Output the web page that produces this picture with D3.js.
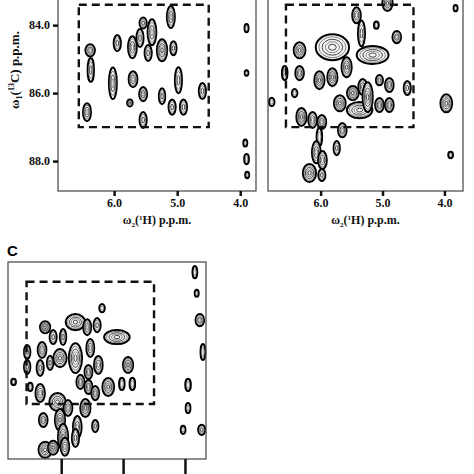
<!DOCTYPE html><html><head><script src="https://cdn.jsdelivr.net/npm/d3@7"></script>
<style>body{margin:0;background:#fff}</style></head><body><svg id="c" width="474" height="474"></svg>
<script>
const xTicks=[6.0,5.0,4.0];
const yTicks=[84.0,86.0,88.0];
const boxH=[6.56,4.5], boxC=[83.4,87.0];
// peaks: [1H ppm, 13C ppm, width ppm, height ppm]
const peaksA=[[5.54,83.94,.06,.22],[5.10,83.76,.07,.5],[5.40,84.21,.08,.6],[6.38,84.74,.09,.25],[6.37,85.32,.05,.55],[5.95,84.53,.06,.35],[5.71,84.65,.08,.5],[5.59,84.38,.06,.4],[5.46,84.82,.06,.35],[5.24,84.74,.1,.5],[5.06,84.68,.05,.3],[6.02,85.71,.07,.75],[5.70,85.59,.08,.35],[5.54,86.03,.07,.3],[5.24,86.09,.05,.35],[4.98,85.62,.06,.6],[5.08,86.41,.06,.33],[4.90,86.41,.06,.33],[4.60,85.94,.06,.35],[6.43,86.56,.07,.4],[5.54,86.79,.06,.35],[5.75,86.29,.04,.12],[3.90,84.09,.02,.15],[3.90,85.41,.015,.08],[3.92,87.47,.02,.12],[3.90,87.94,.03,.2],[3.89,88.41,.02,.1]];
const peaksB=[[5.42,83.71,.08,.35],[5.34,84.24,.06,.6],[4.92,83.35,.1,.35],[5.10,84.0,.03,.12],[4.77,84.35,.08,.25],[5.81,84.65,.4,.6],[6.34,84.74,.12,.35],[5.16,84.88,.38,.4],[6.58,85.41,.04,.3],[6.34,85.41,.08,.3],[6.02,85.62,.1,.4],[5.81,85.53,.1,.4],[5.58,85.24,.1,.45],[5.32,85.82,.08,.35],[5.05,85.62,.06,.2],[4.89,85.76,.08,.3],[4.60,85.85,.06,.3],[5.48,86.0,.12,.3],[5.69,86.3,.12,.35],[5.37,86.5,.3,.35],[5.24,86.12,.1,.7],[5.05,86.35,.08,.3],[4.89,86.35,.08,.3],[6.31,86.7,.1,.4],[6.13,86.79,.08,.35],[5.98,86.85,.08,.3],[5.65,87.09,.08,.3],[6.02,87.29,.04,.4],[6.07,87.74,.08,.5],[5.97,87.97,.08,.4],[5.74,87.62,.05,.3],[6.18,88.35,.14,.4],[5.98,88.41,.06,.25],[6.79,86.26,.04,.15],[6.42,86.0,.04,.15],[3.97,86.3,.12,.4],[3.90,87.82,.03,.1],[3.82,83.5,.02,.1]];
const peaksC=[[6.26,84.74,.1,.25],[6.13,85.03,.06,.3],[5.97,85.03,.05,.35],[5.77,84.59,.22,.35],[5.58,84.74,.07,.35],[5.42,84.68,.06,.3],[5.10,85.03,.3,.3],[6.55,85.47,.05,.3],[6.31,85.41,.08,.35],[6.02,85.65,.14,.4],[5.77,85.65,.14,.7],[5.53,85.35,.07,.4],[5.40,85.85,.08,.4],[6.55,85.91,.05,.3],[6.34,85.94,.06,.35],[6.18,85.79,.05,.3],[5.56,86.06,.07,.3],[5.69,86.35,.07,.3],[5.56,86.5,.07,.3],[5.45,86.68,.07,.3],[5.24,86.5,.12,.4],[5.02,86.41,.04,.25],[4.85,86.41,.04,.25],[4.92,85.85,.1,.35],[6.34,86.68,.09,.4],[6.06,86.94,.18,.4],[5.89,87.12,.08,.35],[5.61,87.12,.1,.4],[6.29,87.47,.08,.3],[6.02,87.47,.1,.5],[5.74,87.68,.08,.5],[5.97,87.97,.1,.6],[5.77,88.0,.06,.4],[5.45,87.65,.05,.25],[6.26,88.35,.14,.35],[6.13,88.29,.1,.3],[5.94,88.26,.08,.4],[5.34,84.18,.04,.15],[3.84,83.12,.03,.25],[3.81,83.74,.02,.12],[3.76,84.53,.08,.25],[3.71,85.47,.03,.35],[3.95,86.44,.04,.25],[3.95,87.12,.03,.2],[4.03,87.76,.03,.15],[3.73,87.76,.06,.2],[6.77,86.35,.03,.1],[6.5,86.5,.03,.15]];
const svg=d3.select("#c");
function panel(opt){
  const g=svg.append("g");
  const x=d3.scaleLinear().domain(opt.xd).range([opt.l,opt.r]);
  const y=d3.scaleLinear().domain(opt.yd).range([opt.t,opt.b]);
  opt.peaks.forEach(p=>{
    const rx=1.2+1.25*Math.abs(x(p[0]+p[2]/2)-x(p[0]-p[2]/2))/2, ry=1.2+1.15*Math.abs(y(p[1]+p[3]/2)-y(p[1]-p[3]/2))/2;
    const n=Math.max(1,Math.min(5,Math.round(Math.min(rx,ry)/1.1)));
    for(let i=0;i<n;i++){const f=1-i/(n+0.2);
      g.append("ellipse").attr("cx",x(p[0])).attr("cy",y(p[1])).attr("rx",Math.max(.8,rx*f)).attr("ry",Math.max(.8,ry*f))
       .attr("fill",i==0?"#f4f4f4":"none").attr("stroke",i==0?"#000":(i%2?"#777":"#333")).attr("stroke-width",i==0?2:0.9);}
  });
  g.append("rect").attr("x",x(boxH[0])).attr("y",y(boxC[0])).attr("width",x(boxH[1])-x(boxH[0])).attr("height",y(boxC[1])-y(boxC[0]))
   .attr("fill","none").attr("stroke","#111").attr("stroke-width",2.4).attr("stroke-dasharray","8,5");
  g.append("rect").attr("x",opt.l).attr("y",opt.t).attr("width",opt.r-opt.l).attr("height",opt.b-opt.t).attr("fill","none").attr("stroke","#444").attr("stroke-width",1.2);
  const xa=g.append("g").attr("transform",`translate(0,${opt.b})`).call(d3.axisBottom(x).tickValues(xTicks).tickSize(opt.tl||5).tickPadding(2).tickFormat(opt.xlab?d3.format(".1f"):""));
  xa.select(".domain").remove();
  xa.selectAll("line").attr("stroke","#111").attr("stroke-width",2.5);
  xa.selectAll("text").attr("font-family","Liberation Serif").attr("font-weight","bold").attr("font-size",12).attr("fill","#111");
  if(opt.ylab){
    const ya=g.append("g").attr("transform",`translate(${opt.l},0)`).call(d3.axisLeft(y).tickValues(yTicks).tickSize(5).tickFormat(d3.format(".1f")));
    ya.select(".domain").remove();
    ya.selectAll("line").attr("stroke","#111").attr("stroke-width",2.5);
    ya.selectAll("text").attr("font-family","Liberation Serif").attr("font-weight","bold").attr("font-size",12).attr("fill","#111");
  }
  if(opt.xlab){
    const t=g.append("text").attr("x",(opt.l+opt.r)/2).attr("y",opt.b+33).attr("text-anchor","middle").attr("font-family","Liberation Serif").attr("font-size",12).attr("font-weight","bold").attr("fill","#111");
    t.append("tspan").text("ω");t.append("tspan").attr("font-size",7).attr("dy",3).text("2");t.append("tspan").attr("dy",-3).text("(");
    t.append("tspan").attr("font-size",7).attr("dy",-4).text("1");t.append("tspan").attr("dy",4).text("H) p.p.m.");
  }
}
panel({l:58,r:256,t:-10,b:191,xd:[6.89,3.75],yd:[83.26-10/34,88.88],peaks:peaksA,xlab:true,ylab:true});
panel({l:268,r:463,t:-10,b:191,xd:[6.85,3.7],yd:[83.26-10/34,88.88],peaks:peaksB,xlab:true});
panel({l:8,r:206,t:262,b:459,xd:[6.86,3.66],yd:[82.82,88.62],peaks:peaksC,tl:16});
const yl=svg.append("text").attr("transform","translate(19,70) rotate(-90)").attr("text-anchor","middle").attr("font-family","Liberation Serif").attr("font-size",13).attr("font-weight","bold").attr("fill","#111");
yl.append("tspan").text("ω");yl.append("tspan").attr("font-size",8).attr("dy",3).text("1");yl.append("tspan").attr("dy",-3).text("(");
yl.append("tspan").attr("font-size",8).attr("dy",-5).text("13");yl.append("tspan").attr("dy",5).text("C) p.p.m.");
svg.append("text").attr("x",7).attr("y",256).attr("font-family","Liberation Sans").attr("font-weight","bold").attr("font-size",15).text("C");
</script></body></html>
